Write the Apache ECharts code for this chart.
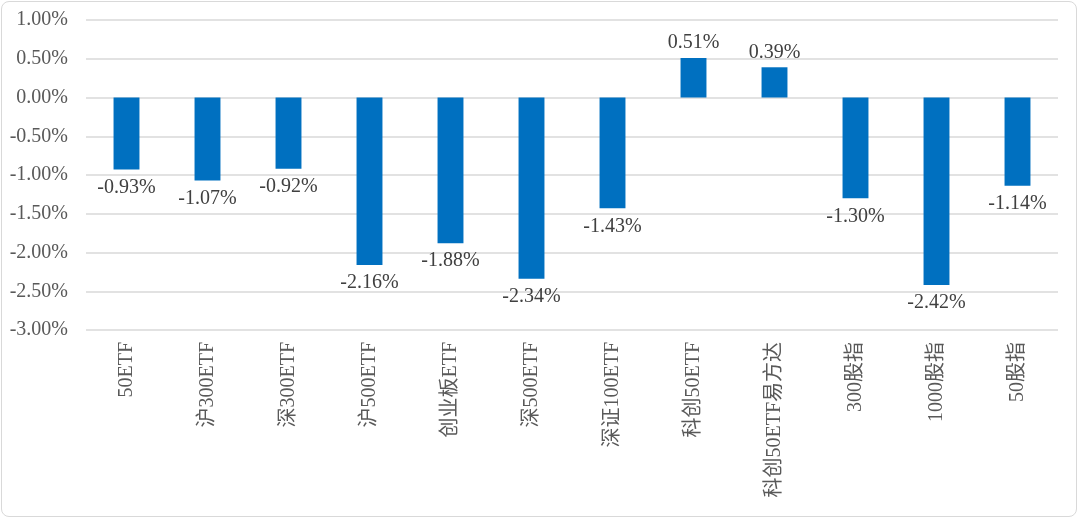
<!DOCTYPE html>
<html>
<head>
<meta charset="utf-8">
<script src="https://cdn.jsdelivr.net/npm/echarts@6/dist/echarts.min.js"></script>
<style>
html,body{margin:0;padding:0;background:#fff;}
#wrap{position:absolute;left:1px;top:1px;width:1076px;height:516px;border:1px solid #d9d9d9;border-radius:8px;box-sizing:border-box;}
#c{position:absolute;left:0;top:0;width:1080px;height:520px;}
</style>
</head>
<body>
<div id="wrap"></div>
<div id="c"></div>
<script>
const categories = ['50ETF','沪300ETF','深300ETF','沪500ETF','创业板ETF','深500ETF','深证100ETF','科创50ETF','科创50ETF易方达','300股指','1000股指','50股指'];
const values = [-0.93,-1.07,-0.92,-2.16,-1.88,-2.34,-1.43,0.51,0.39,-1.30,-2.42,-1.14];
const yTicks = {min:-3, max:1, interval:0.5};

const font = '"Liberation Serif","Times New Roman","Noto Sans CJK SC",serif';
const chart = echarts.init(document.getElementById('c'));
chart.setOption({
  animation:false,
  grid:{left:86,right:22,top:20,bottom:190,containLabel:false},
  xAxis:{
    type:'category',
    data:categories,
    axisLine:{show:false},
    axisTick:{show:false},
    axisLabel:{rotate:90,margin:12,fontSize:20,color:'#595959',fontFamily:font,interval:0}
  },
  yAxis:{
    type:'value',
    min:yTicks.min,max:yTicks.max,interval:yTicks.interval,
    axisLine:{show:false},
    axisTick:{show:false},
    splitLine:{lineStyle:{color:'#d9d9d9',width:1.5}},
    axisLabel:{margin:18,fontSize:20,color:'#595959',fontFamily:font,formatter:v=>v.toFixed(2)+'%'}
  },
  series:[{
    type:'bar',
    barWidth:'32%',
    itemStyle:{color:'#0070C0'},
    data:values.map(v=>({value:v,label:{position:v<0?'bottom':'top',distance:v<0?8:5}})),
    label:{show:true,fontSize:20,color:'#404040',fontFamily:font,formatter:p=>p.value.toFixed(2)+'%'}
  }]
});
</script>
</body>
</html>
